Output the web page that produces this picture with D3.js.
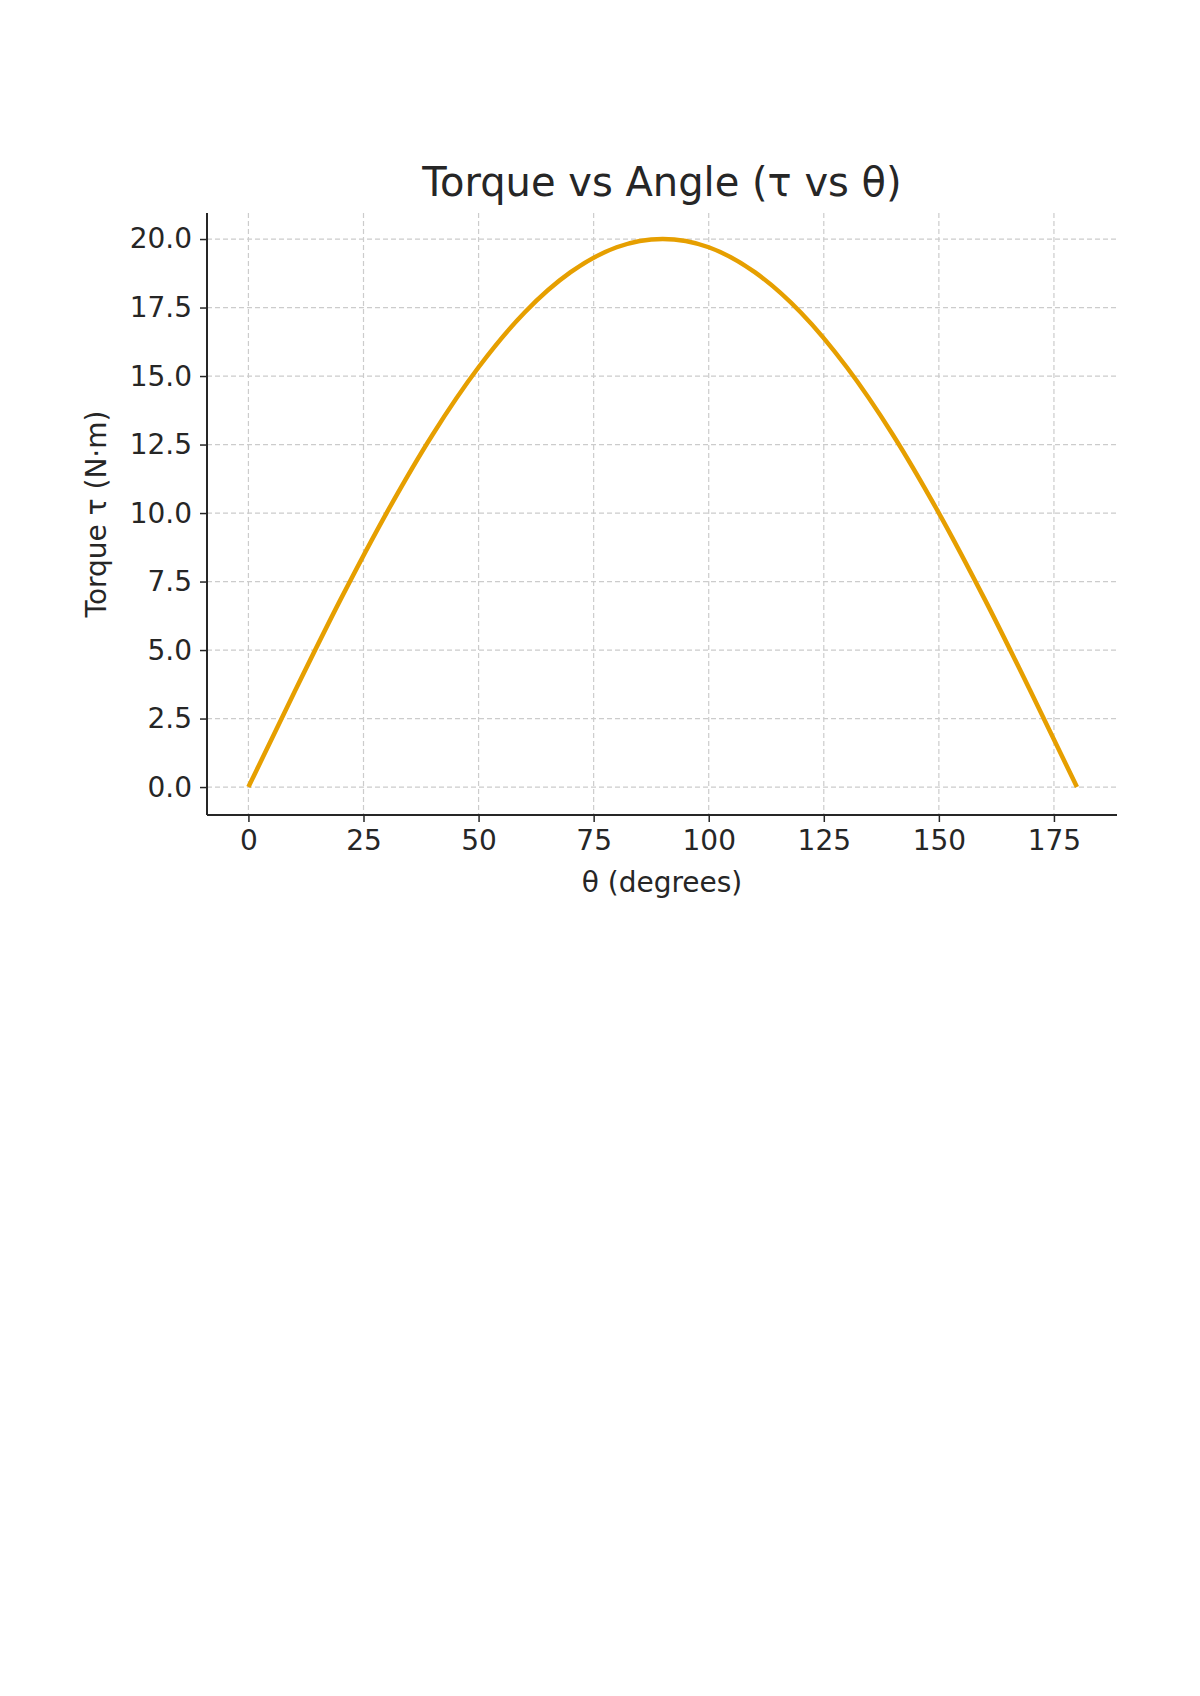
<!DOCTYPE html>
<html><head><meta charset="utf-8">
<script src="https://cdn.jsdelivr.net/npm/d3@7"></script>
<style>body{margin:0;background:#fff}text{font-family:"DejaVu Sans",sans-serif;fill:#262626}</style>
</head><body><div id="chart"></div>
<script>
// values
const angles = [0, 10, 20, 30, 40, 50, 60, 70, 80, 90, 100, 110, 120, 130, 140, 150, 160, 170, 180];
const torque = [0, 3.47, 6.84, 10.0, 12.86, 15.32, 17.32, 18.79, 19.7, 20.0, 19.7, 18.79, 17.32, 15.32, 12.86, 10.0, 6.84, 3.47, 0];
const xTicks = [0, 25, 50, 75, 100, 125, 150, 175];
const yTicks = [0, 2.5, 5, 7.5, 10, 12.5, 15, 17.5, 20];

const width = 1200, height = 1696;
const m = { left: 207, right: 1117, top: 213, bottom: 815 };

const svg = d3.select('#chart').append('svg').attr('width', width).attr('height', height);
const x = d3.scaleLinear().domain([-9, 188.7]).range([m.left, m.right]);
const y = d3.scaleLinear().domain([-1.02, 20.95]).range([m.bottom, m.top]);

// grid
svg.append('g').selectAll('line').data(xTicks).join('line')
  .attr('x1', d => x(d)).attr('x2', d => x(d)).attr('y1', m.top).attr('y2', m.bottom)
  .attr('stroke', '#cccccc').attr('stroke-width', 1.2).attr('stroke-dasharray', '5,3');
svg.append('g').selectAll('line').data(yTicks).join('line')
  .attr('x1', m.left).attr('x2', m.right).attr('y1', d => y(d)).attr('y2', d => y(d))
  .attr('stroke', '#cccccc').attr('stroke-width', 1.2).attr('stroke-dasharray', '5,3');

const xAxis = svg.append('g').attr('transform', `translate(0,${m.bottom})`)
  .call(d3.axisBottom(x).tickValues(xTicks).tickSize(7).tickPadding(8).tickFormat(d3.format('d')));
const yAxis = svg.append('g').attr('transform', `translate(${m.left},0)`)
  .call(d3.axisLeft(y).tickValues(yTicks).tickSize(7).tickPadding(8).tickFormat(d3.format('.1f')));
[xAxis, yAxis].forEach(a => {
  a.select('.domain').attr('stroke', '#262626').attr('stroke-width', 2);
  a.selectAll('.tick line').attr('stroke', '#262626').attr('stroke-width', 1.5);
  a.selectAll('text').attr('font-size', 28).attr('fill', '#262626');
});
xAxis.select('.domain').attr('d', `M${m.left},0H${m.right}`);
yAxis.select('.domain').attr('d', `M0,${m.top}V${m.bottom}`);

const line = d3.line().x((d, i) => x(angles[i])).y(d => y(d)).curve(d3.curveMonotoneX);
svg.append('path').datum(torque).attr('d', line)
  .attr('fill', 'none').attr('stroke', '#E69F00').attr('stroke-width', 4.5);

svg.append('text').attr('x', 662).attr('y', 196).attr('text-anchor', 'middle')
  .attr('font-size', 40).text('Torque vs Angle (τ vs θ)');
svg.append('text').attr('x', 662).attr('y', 892).attr('text-anchor', 'middle')
  .attr('font-size', 28).text('θ (degrees)');
svg.append('text').attr('transform', 'translate(106,514) rotate(-90)').attr('text-anchor', 'middle')
  .attr('font-size', 28).text('Torque τ (N·m)');
</script></body></html>
